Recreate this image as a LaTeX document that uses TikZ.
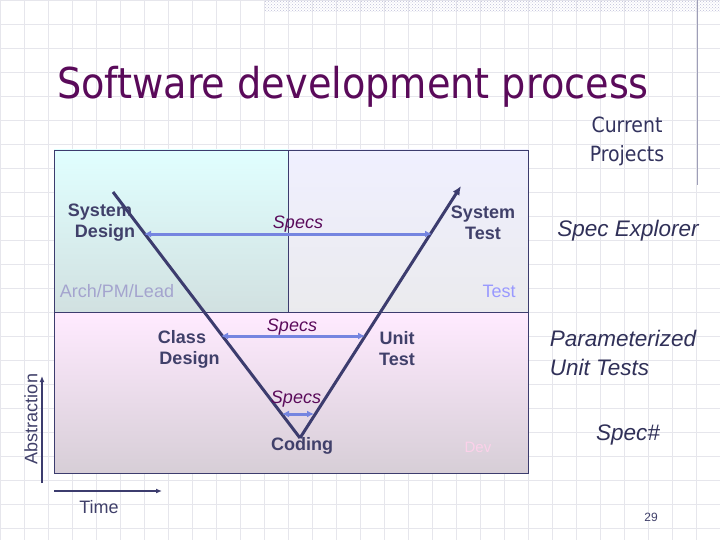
\documentclass[tikz,border=0pt]{standalone}
\usepackage{fontspec}
\setmainfont{Liberation Sans}
\newfontfamily\titlefont{DejaVu Sans Condensed}
\usetikzlibrary{arrows.meta,patterns}
\definecolor{navy}{HTML}{3C3C6E}
\definecolor{specblue}{HTML}{7585E0}
\definecolor{purp}{HTML}{5A0A5A}
\definecolor{txt}{HTML}{40406A}
\definecolor{gridc}{HTML}{E6E6EC}
\tikzset{
  vline/.style={draw=navy,line width=3pt},
  specarrow/.style={draw=specblue,line width=3pt,{Latex[length=7pt,width=7pt]}-{Latex[length=7pt,width=7pt]}},
  lbl/.style={font=\bfseries\fontsize{18}{21}\selectfont,text=txt,align=center,inner sep=0pt},
  spec/.style={font=\itshape\fontsize{18}{21}\selectfont,text=purp,inner sep=0pt},
  side/.style={font=\itshape\fontsize{22.5}{29}\selectfont,text=navy!80!black,align=left,inner sep=0pt},
  axis/.style={draw=navy,line width=1.5pt,-{Latex[length=6pt,width=5pt]}}
}
\begin{document}
\begin{tikzpicture}[x=1pt,y=-1pt]
\useasboundingbox (0,0) rectangle (720,540);
\fill[white] (0,0) rectangle (720,540);
\foreach \i in {0,24,...,720} {\draw[gridc,line width=0.5pt] (\i,0) -- (\i,540);}
\foreach \j in {0,24,...,540} {\draw[gridc,line width=0.5pt] (0,\j) -- (720,\j);}
\fill[pattern=crosshatch dots,pattern color=blue!25!gray!40] (265,0) rectangle (720,12);
\draw[navy!50,line width=0.6pt] (697,0) -- (697,185);
\node[font=\titlefont\fontsize{42.5}{50}\selectfont,text=purp,inner sep=0pt] (title) at (353,87) {Software development process};
\node[font=\titlefont\fontsize{21}{29}\selectfont,text=navy!85!black,align=center,inner sep=0pt] (cur) at (627,141) {Current\\Projects};
% regions
\shade[top color=cyan!12,bottom color=cyan!20!gray!30] (54,150) rectangle (288,312);
\shade[top color=blue!6,bottom color=blue!8!gray!15] (288,150) rectangle (528,312);
\shade[top color=magenta!8,bottom color=magenta!10!gray!35] (54,312) rectangle (528,473);
\draw[navy,line width=0.8pt] (54,150) rectangle (528,473);
\draw[navy,line width=0.8pt] (288,150) -- (288,312) (54,312) -- (528,312);
\node[font=\fontsize{18}{21}\selectfont,text=blue!30!gray!55,inner sep=0pt] (arch) at (117,291) {Arch/PM/Lead};
\node[font=\fontsize{18}{21}\selectfont,text=blue!40!white,inner sep=0pt] (test) at (499,291) {Test};
\node[font=\fontsize{15}{17}\selectfont,text=magenta!18,inner sep=0pt] (dev) at (478,447) {Dev};
% V
\coordinate (vtl) at (113,192);
\coordinate (vb) at (300,438);
\coordinate (vtr) at (461,186);
\draw[vline] (vtl) -- (vb);
\draw[vline,-{Latex[length=9pt,width=8pt]}] (vb) -- (vtr);
\coordinate (s1l) at (144,234); \coordinate (s1r) at (432,234);
\coordinate (s2l) at (221,336); \coordinate (s2r) at (365,336);
\coordinate (s3l) at (282,414); \coordinate (s3r) at (314,414);
\draw[specarrow] (s1l) -- (s1r);
\draw[specarrow] (s2l) -- (s2r);
\draw[specarrow] (s3l) -- (s3r);
\node[spec] (sp1) at (298,224) {Specs};
\node[spec] (sp2) at (292,327) {Specs};
\node[spec] (sp3) at (296,399) {Specs};
\node[lbl] (sd) at (100,223) {System\\\ \ Design};
\node[lbl] (st) at (483,223) {System\\Test};
\node[lbl] (cd) at (182,349) {Class\\\ \ \ Design};
\node[lbl] (ut) at (397,349) {Unit\\Test};
\node[lbl] (cod) at (302,446) {Coding};
% axes
\coordinate (ao) at (42,483);
\coordinate (ay) at (42,376);
\coordinate (tx0) at (54,491);
\coordinate (tx1) at (162,491);
\draw[axis] (ao) -- (ay);
\draw[axis] (tx0) -- (tx1);
\node[font=\fontsize{18}{21}\selectfont,text=txt,rotate=90,inner sep=0pt] (abs) at (31,419) {Abstraction};
\node[font=\fontsize{18}{21}\selectfont,text=txt,inner sep=0pt] (time) at (99,507) {Time};
% right side
\node[side] (se) at (628,231) {Spec Explorer};
\node[side] (pu) at (623,353) {Parameterized\\Unit Tests};
\node[side] (ss) at (628,435) {Spec\#};
\node[font=\fontsize{12}{14}\selectfont,text=txt,inner sep=0pt] (pg) at (651,517) {29};
\end{tikzpicture}
\end{document}
